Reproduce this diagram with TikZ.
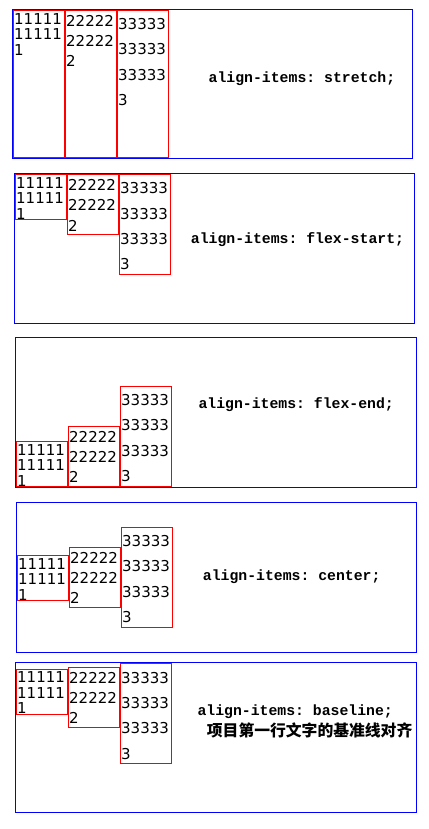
\documentclass[tikz,border=0pt]{standalone}
\usepackage{fontspec}
\usepackage{tikz}
\newfontfamily\itemfont{DejaVu Sans}
\newfontfamily\labfont{Liberation Mono}
\newfontfamily\cjkfont{Noto Sans CJK SC}
\frenchspacing

\begin{document}
\begin{tikzpicture}[x=1pt, y=-1pt,
        flexbox/.style = {draw=blue, line width=1pt},
        flexitem/.style = {draw=red, line width=1pt},
        one/.style = {anchor=north west, inner sep=0pt, align=left, font=\itemfont\fontsize{15}{15.3}\selectfont},
        two/.style = {anchor=north west, inner sep=0pt, align=left, font=\itemfont\fontsize{15}{20.3}\selectfont},
        three/.style = {anchor=north west, inner sep=0pt, align=left, font=\itemfont\fontsize{15}{25.3}\selectfont},
        rule/.style = {anchor=west, inner sep=0pt, font=\labfont\bfseries\fontsize{14.8}{17}\selectfont},
        note/.style = {anchor=west, inner sep=0pt, font=\cjkfont\bfseries\fontsize{15.8}{17}\selectfont},]
        \useasboundingbox (0,0) rectangle (428,829);

        \draw[flexbox] (12.5,9.5) rectangle (412.5,158.5);
        \draw[flexitem] (13.5,10.5) rectangle (64.5,157.5);
        \draw[flexitem] (65.5,10.5) rectangle (116.5,157.5);
        \draw[flexitem] (117.5,10.5) rectangle (168.5,157.5);
        \node[one] (t11) at (14,13.3) {11111\\11111\\1};
        \node[two] (t12) at (66,15) {22222\\22222\\2};
        \node[three] (t13) at (118,18.3) {33333\\33333\\33333\\3};
        \node[rule] (r1) at (208.5,79) {align-items: stretch;};

        \draw[flexbox] (14.5,173.5) rectangle (414.5,323.5);
        \draw[flexitem] (15.5,174.5) rectangle (66.5,219.5);
        \draw[flexitem] (67.5,174.5) rectangle (118.5,234.5);
        \draw[flexitem] (119.5,174.5) rectangle (170.5,274.5);
        \node[one] (t21) at (16,177.5) {11111\\11111\\1};
        \node[two] (t22) at (68,179.2) {22222\\22222\\2};
        \node[three] (t23) at (120,182.5) {33333\\33333\\33333\\3};
        \node[rule] (r2) at (190.7,240) {align-items: flex-start;};

        \draw[flexbox] (15.5,337.5) rectangle (416.5,487.5);
        \draw[flexitem] (16.5,441.5) rectangle (67.5,486.5);
        \draw[flexitem] (68.5,426.5) rectangle (119.5,486.5);
        \draw[flexitem] (120.5,386.5) rectangle (171.5,486.5);
        \node[one] (t31) at (17,444.3) {11111\\11111\\1};
        \node[two] (t32) at (69,431) {22222\\22222\\2};
        \node[three] (t33) at (121,394.3) {33333\\33333\\33333\\3};
        \node[rule] (r3) at (198.3,405) {align-items: flex-end;};

        \draw[flexbox] (16.5,502.5) rectangle (416.5,652.5);
        \draw[flexitem] (17.5,555.5) rectangle (68.5,600.5);
        \draw[flexitem] (69.5,547.5) rectangle (120.5,607.5);
        \draw[flexitem] (121.5,527.5) rectangle (172.5,627.5);
        \node[one] (t41) at (18,558.3) {11111\\11111\\1};
        \node[two] (t42) at (70,552) {22222\\22222\\2};
        \node[three] (t43) at (122,535.3) {33333\\33333\\33333\\3};
        \node[rule] (r4) at (202.7,577) {align-items: center;};

        \draw[flexbox] (15.5,662.5) rectangle (416.5,812.5);
        \draw[flexitem] (16.5,669.5) rectangle (67.5,714.5);
        \draw[flexitem] (68.5,667.5) rectangle (119.5,727.5);
        \draw[flexitem] (120.5,663.5) rectangle (171.5,763.5);
        \node[one] (t51) at (17,671.8) {11111\\11111\\1};
        \node[two] (t52) at (69,671.8) {22222\\22222\\2};
        \node[three] (t53) at (121,671.8) {33333\\33333\\33333\\3};
        \node[rule] (r5) at (197.3,711.7) {align-items: baseline;};
        \node[note] (n5) at (206.7,730) {项目第一行文字的基准线对齐};

\end{tikzpicture}
\end{document}
